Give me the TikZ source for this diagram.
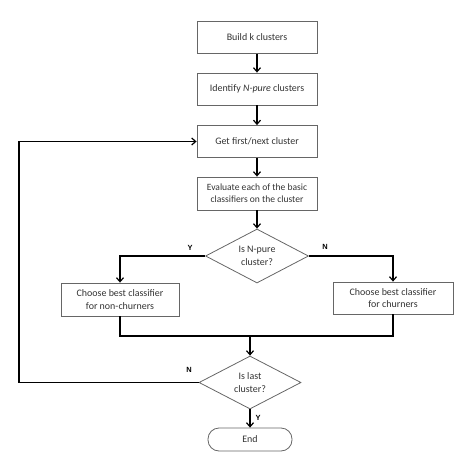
\documentclass[tikz,border=0pt]{standalone}
\usepackage{fontspec}
\setmainfont{Carlito}
\newfontfamily\labfont{Liberation Sans}
\usetikzlibrary{shapes.geometric,arrows.meta}
\tikzset{
  boxnode/.style={draw=black!60, line width=0.8bp, rectangle, minimum width=120bp, minimum height=32bp, inner sep=1bp, align=center, font=\fontsize{10}{12.5}\selectfont, text=black!80},
  decnode/.style={draw=black!60, line width=0.8bp, diamond, aspect=1.9, inner sep=0bp, align=center, font=\fontsize{10}{12.5}\selectfont, text=black!80},
  endnode/.style={draw=black!60, line width=0.8bp, rectangle, rounded corners=11bp, minimum width=84bp, minimum height=23bp, inner sep=1bp, font=\fontsize{10}{12}\selectfont, text=black!80},
  conn/.style={line width=1.2bp, black},
  arr/.style={conn, -{Straight Barb[length=4bp,width=7bp,line width=1.2bp]}},
  lab/.style={font=\labfont\bfseries\fontsize{7.5}{9}\selectfont, inner sep=0bp}
}
\begin{document}
\begin{tikzpicture}[x=1bp,y=-1bp]
\useasboundingbox (0,0) rectangle (474,474);
\node[boxnode] (b1) at (257,37.5) {Build k clusters};
\node[boxnode] (b2) at (257,89) {Identify \textit{N-pure} clusters};
\node[boxnode] (b3) at (257,141.5) {Get first/next cluster};
\node[boxnode, minimum height=33bp, font=\fontsize{9.6}{12}\selectfont] (b4) at (257,193.5) {Evaluate each of the basic\\classifiers on the cluster};
\node[decnode, minimum width=103bp, minimum height=54bp] (d1) at (257,256) {Is N-pure\\cluster?};
\node[boxnode, minimum width=118bp, minimum height=33bp] (l1) at (120,299.5) {Choose best classifier\\for non-churners};
\node[boxnode] (r1) at (393,298) {Choose best classifier\\for churners};
\coordinate (m) at (250,336);
\node[decnode, minimum width=102bp, minimum height=53bp] (d2) at (250,382.5) {Is last\\cluster?};
\node[endnode] (e) at (250,439.5) {End};
\coordinate (lp) at (19,141.5);

\draw[arr] (b1.south) -- (b2.north);
\draw[arr] (b2.south) -- (b3.north);
\draw[arr] (b3.south) -- (b4.north);
\draw[arr] (b4.south) -- (d1.north);
\draw[arr] (d1.west) -| (l1.north);
\draw[arr] (d1.east) -| (r1.north);
\draw[conn] (l1.south) |- (m) -| (r1.south);
\draw[arr] (m) -- (d2.north);
\draw[arr] (d2.west) -| (lp) -- (b3.west);
\draw[arr] (d2.south) -- (e.north);

\node[lab] (ly1) at (190,248) {Y};
\node[lab] (ln1) at (325,247) {N};
\node[lab] (ln2) at (189,370) {N};
\node[lab] (ly2) at (258,418) {Y};
\end{tikzpicture}
\end{document}
